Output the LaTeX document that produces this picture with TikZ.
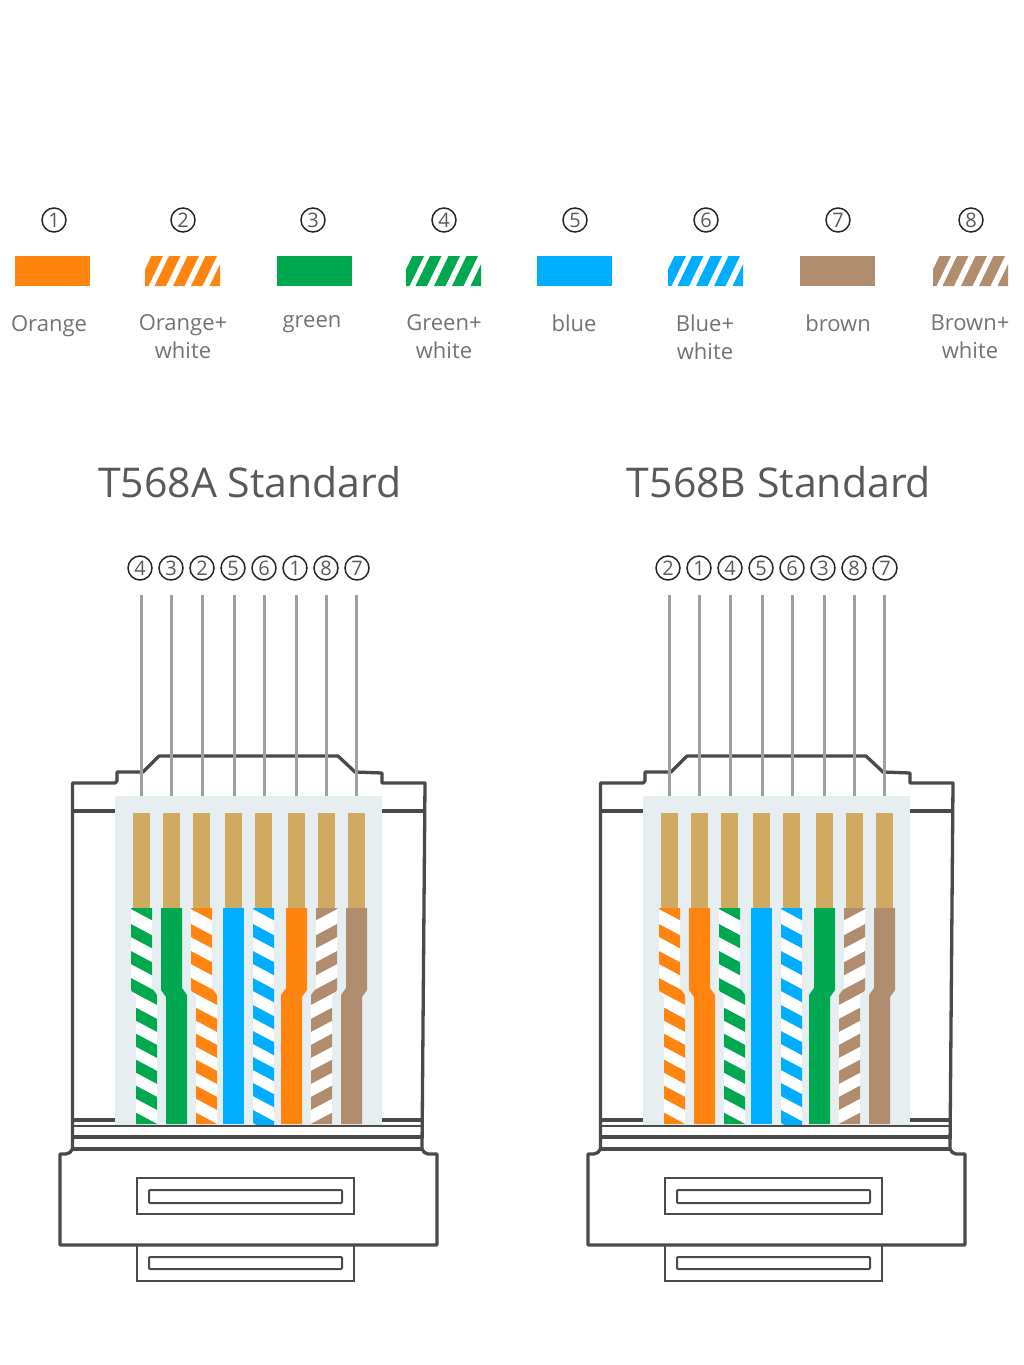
\documentclass[tikz,border=0pt]{standalone}
\usepackage{fontspec}
\setmainfont{Open Sans}
\definecolor{wireorange}{HTML}{FF8410}
\definecolor{wiregreen}{HTML}{00A94F}
\definecolor{wireblue}{HTML}{00ADFF}
\definecolor{wirebrown}{HTML}{B08D6E}
\definecolor{pingold}{HTML}{CFAA60}
\definecolor{panelgrey}{HTML}{E6EEF2}
\definecolor{leadgrey}{HTML}{A0A0A0}
\definecolor{shellgrey}{HTML}{4A4A4A}
\tikzset{
	shell/.style={draw=shellgrey,line width=3.3pt,line join=round},
	slot/.style={draw=shellgrey,line width=2pt},
	lead/.style={draw=leadgrey,line width=3pt},
	numcircle/.style={circle,draw=black!85,line width=1.5pt,minimum size=24pt,inner sep=0pt,font=\fontsize{20}{20}\selectfont,text=black!65},
	legendtext/.style={text=black!55,font=\fontsize{22}{28}\selectfont,inner sep=0pt},
	titletext/.style={text=black!65,font=\fontsize{41}{48}\selectfont,inner sep=0pt}
}
\def\steppath{(0,908) -- (21,908) -- (21,988) -- (26,995) -- (26,1124) -- (5,1124) -- (5,997) -- (0,990) -- cycle}
\def\straightpath{(0,908) -- (21,908) -- (21,1124) -- (0,1124) -- cycle}
% plain wire: #1 placing, #2 colour, #3 outline
\newcommand{\solidwire}[3]{
	\begin{scope}[#1]
		\fill[#2] #3;
	\end{scope}
}
% twisted wire: #1 placing, #2 colour, #3 outline
\newcommand{\stripewire}[3]{
	\begin{scope}[#1]
		\fill[white] #3;
		\clip #3;
		\foreach \y in {896,924,951,978,1005,1031,1057,1083,1110}
			\fill[#2] (-2,\y-1) -- (30,\y+16) -- (30,\y+29) -- (-2,\y+12) -- cycle;
	\end{scope}
}
% hatched colour sample: #1 left edge, #2 colour
\newcommand{\hatchswatch}[2]{
	\begin{scope}[xshift=#1pt]
		\clip (0,256) rectangle (75,286);
		\foreach \x in {-8,9.5,28,46,64.5}
			\fill[#2] (\x,286) -- (\x+14.5,256) -- (\x+26,256) -- (\x+11.5,286) -- cycle;
	\end{scope}
}
% shell, panel, pins and top leads of one plug: #1 name prefix
\newcommand{\rjplug}[1]{
	\draw[shell] (72.5,1150) -- (72.5,783) -- (115,783) -- (117,781) -- (117,772) -- (143,772) -- (159,756) -- (338,756) -- (355,772) -- (382,773) -- (382,783) -- (425,783) -- (422,1150);
	\draw[shell] (72.5,811) -- (423,811);
	\draw[shell] (72.5,1120) -- (422,1120);
	\draw[shell,line width=1.5pt] (72.5,1126) -- (422,1126);
	\draw[shell] (72.5,1137) -- (422,1137);
	\draw[shell] (72.5,1149) -- (422,1149);
	\draw[shell] (72.5,1149) to[bend left=30] (66,1154) -- (60,1154) -- (60,1245) -- (437,1245) -- (437,1154) -- (428,1154) to[bend left=30] (422,1149);
	\draw[slot] (137,1178) rectangle (354,1214);
	\draw[slot,rounded corners=1pt] (149,1190) rectangle (342,1203);
	\draw[slot] (137,1245) -- (137,1281) -- (354,1281) -- (354,1245);
	\draw[slot,rounded corners=1pt] (149,1257) rectangle (342,1269);
	\fill[panelgrey] (115,796) rectangle (382,1125);
	\foreach \i/\x in {1/133,2/163,3/193,4/225,5/255,6/288,7/318,8/348}
		\fill[pingold] (\x,813) rectangle (\x+17,908);
	\foreach \i/\x in {1/141,2/171,3/202,4/234,5/264,6/296,7/326,8/356}{
		\coordinate (#1top\i) at (\x,595);
		\coordinate (#1bot\i) at (\x,796);
		\draw[lead] (#1top\i)--(#1bot\i);
	}
}
\begin{document}
\begin{tikzpicture}[x=1pt,y=-1pt]
\useasboundingbox (0,0) rectangle (1024,1365);
%colour legend
\foreach \i/\x in {1/54,2/183,3/313,4/444,5/575,6/706,7/838,8/971}
	\node[numcircle] (leg\i) at (\x,220) {\i};
\fill[wireorange] (15,256) rectangle (90,286);
\hatchswatch{145}{wireorange}
\fill[wiregreen] (277,256) rectangle (352,286);
\hatchswatch{406}{wiregreen}
\fill[wireblue] (537,256) rectangle (612,286);
\hatchswatch{668}{wireblue}
\fill[wirebrown] (800,256) rectangle (875,286);
\hatchswatch{933}{wirebrown}
\node[legendtext] (nameone) at (49,326) {Orange};
\node[legendtext,align=center] (nametwo) at (183,337) {Orange+\\white};
\node[legendtext] (namethree) at (312,324) {green};
\node[legendtext,align=center] (namefour) at (444,337) {Green+\\white};
\node[legendtext] (namefive) at (574,323) {blue};
\node[legendtext,align=center] (namesix) at (705,337) {Blue+\\white};
\node[legendtext] (nameseven) at (838,323) {brown};
\node[legendtext,align=center] (nameeight) at (970,337) {Brown+\\white};
\node[titletext] (titleA) at (250,482) {T568A Standard};
\node[titletext] (titleB) at (779,482) {T568B Standard};
%T568A
\foreach \i/\x/\n in {1/140/4,2/171/3,3/202/2,4/233/5,5/264/6,6/295/1,7/326/8,8/357/7}
	\node[numcircle] (a\i) at (\x,568) {\n};
\rjplug{a}
\stripewire{xshift=131pt}{wiregreen}{\steppath}
\solidwire{xshift=161pt}{wiregreen}{\steppath}
\stripewire{xshift=191pt}{wireorange}{\steppath}
\solidwire{xshift=223pt}{wireblue}{\straightpath}
\stripewire{xshift=253pt}{wireblue}{\straightpath}
\solidwire{xshift=307pt,xscale=-1}{wireorange}{\steppath}
\stripewire{xshift=337pt,xscale=-1}{wirebrown}{\steppath}
\solidwire{xshift=367pt,xscale=-1}{wirebrown}{\steppath}
%T568B
\foreach \i/\x/\n in {1/668/2,2/699/1,3/730/4,4/761/5,5/792/6,6/823/3,7/854/8,8/885/7}
	\node[numcircle] (b\i) at (\x,568) {\n};
\begin{scope}[xshift=528pt]
\rjplug{b}
\stripewire{xshift=131pt}{wireorange}{\steppath}
\solidwire{xshift=161pt}{wireorange}{\steppath}
\stripewire{xshift=191pt}{wiregreen}{\steppath}
\solidwire{xshift=223pt}{wireblue}{\straightpath}
\stripewire{xshift=253pt}{wireblue}{\straightpath}
\solidwire{xshift=307pt,xscale=-1}{wiregreen}{\steppath}
\stripewire{xshift=337pt,xscale=-1}{wirebrown}{\steppath}
\solidwire{xshift=367pt,xscale=-1}{wirebrown}{\steppath}
\end{scope}
\end{tikzpicture}
\end{document}
